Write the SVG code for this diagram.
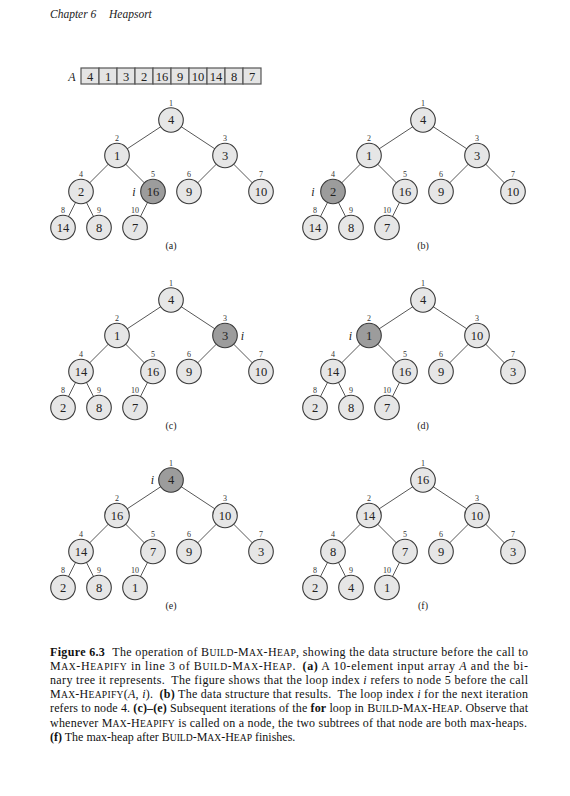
<svg xmlns="http://www.w3.org/2000/svg" width="570" height="796" viewBox="0 0 570 796">
<defs>
<style>
.bg{fill:#ffffff}
.hdr{font-family:"Liberation Serif",serif;font-style:italic;font-size:11.5px;fill:#222}
.cell{fill:#e4e4e4;stroke:#555;stroke-width:1.2}
.cv{font-family:"Liberation Serif",serif;font-size:12.5px;fill:#222;text-anchor:middle}
.it{font-family:"Liberation Serif",serif;font-style:italic;font-size:12px;fill:#222;text-anchor:middle}
.edge{stroke:#444;stroke-width:0.9;fill:none}
.nd{fill:#e6e6e6;stroke:#3a3a3a;stroke-width:1.1}
.dk{fill:#9c9c9c;stroke:#3a3a3a;stroke-width:1.1}
.nv{font-family:"Liberation Serif",serif;font-size:12.5px;fill:#222;text-anchor:middle}
.ix{font-family:"Liberation Serif",serif;font-size:8px;fill:#333;text-anchor:middle}
.sub{font-family:"Liberation Serif",serif;font-size:10px;fill:#222;text-anchor:middle}
.cap{font-family:"Liberation Serif",serif;font-size:12px;fill:#111}
.b{font-weight:bold}
.i{font-style:italic}
.s{font-size:9.6px}
</style>
<g id="edges-template">
<line class="edge" x1="171" y1="120" x2="117" y2="155.5"/>
<line class="edge" x1="171" y1="120" x2="225" y2="155.5"/>
<line class="edge" x1="117" y1="155.5" x2="81" y2="191.5"/>
<line class="edge" x1="117" y1="155.5" x2="153" y2="191.5"/>
<line class="edge" x1="225" y1="155.5" x2="189" y2="191.5"/>
<line class="edge" x1="225" y1="155.5" x2="261" y2="191.5"/>
<line class="edge" x1="81" y1="191.5" x2="63" y2="227.5"/>
<line class="edge" x1="81" y1="191.5" x2="99" y2="227.5"/>
<line class="edge" x1="153" y1="191.5" x2="135" y2="227.5"/>
</g>
</defs>
<rect class="bg" x="0" y="0" width="570" height="796"/>

<g id="header">
<text class="hdr" x="50" y="18">Chapter 6</text>
<text class="hdr" x="109" y="18">Heapsort</text>
</g>

<g id="array">
<text class="it" x="72" y="80.5">A</text>
<rect class="cell" x="81" y="68" width="18" height="16"/>
<rect class="cell" x="99" y="68" width="18" height="16"/>
<rect class="cell" x="117" y="68" width="18" height="16"/>
<rect class="cell" x="135" y="68" width="18" height="16"/>
<rect class="cell" x="153" y="68" width="18" height="16"/>
<rect class="cell" x="171" y="68" width="18" height="16"/>
<rect class="cell" x="189" y="68" width="18" height="16"/>
<rect class="cell" x="207" y="68" width="18" height="16"/>
<rect class="cell" x="225" y="68" width="18" height="16"/>
<rect class="cell" x="243" y="68" width="18" height="16"/>
<text class="cv" x="90" y="80.5">4</text>
<text class="cv" x="108" y="80.5">1</text>
<text class="cv" x="126" y="80.5">3</text>
<text class="cv" x="144" y="80.5">2</text>
<text class="cv" x="162" y="80.5">16</text>
<text class="cv" x="180" y="80.5">9</text>
<text class="cv" x="198" y="80.5">10</text>
<text class="cv" x="216" y="80.5">14</text>
<text class="cv" x="234" y="80.5">8</text>
<text class="cv" x="252" y="80.5">7</text>
</g>

<!-- Tree (a) -->
<g id="tree-a">
<g id="a-connectors"><use href="#edges-template"/></g>
<g id="a-n1"><circle class="nd" cx="171" cy="120" r="12.3"/><text class="nv" x="171" y="124.3">4</text><text class="ix" x="171" y="105.5">1</text></g>
<g id="a-n2"><circle class="nd" cx="117" cy="155.5" r="12.3"/><text class="nv" x="117" y="159.8">1</text><text class="ix" x="117" y="141">2</text></g>
<g id="a-n3"><circle class="nd" cx="225" cy="155.5" r="12.3"/><text class="nv" x="225" y="159.8">3</text><text class="ix" x="225" y="141">3</text></g>
<g id="a-n4"><circle class="nd" cx="81" cy="191.5" r="12.3"/><text class="nv" x="81" y="195.8">2</text><text class="ix" x="81" y="177">4</text></g>
<g id="a-n5"><circle class="dk" cx="153" cy="191.5" r="12.3"/><text class="nv" x="153" y="195.8">16</text><text class="ix" x="153" y="177">5</text><text class="it" x="134" y="195.8">i</text></g>
<g id="a-n6"><circle class="nd" cx="189" cy="191.5" r="12.3"/><text class="nv" x="189" y="195.8">9</text><text class="ix" x="189" y="177">6</text></g>
<g id="a-n7"><circle class="nd" cx="261" cy="191.5" r="12.3"/><text class="nv" x="261" y="195.8">10</text><text class="ix" x="261" y="177">7</text></g>
<g id="a-n8"><circle class="nd" cx="63" cy="227.5" r="12.3"/><text class="nv" x="63" y="231.8">14</text><text class="ix" x="63" y="213">8</text></g>
<g id="a-n9"><circle class="nd" cx="99" cy="227.5" r="12.3"/><text class="nv" x="99" y="231.8">8</text><text class="ix" x="99" y="213">9</text></g>
<g id="a-n10"><circle class="nd" cx="135" cy="227.5" r="12.3"/><text class="nv" x="135" y="231.8">7</text><text class="ix" x="135" y="213">10</text></g>
<text class="sub" x="171" y="248.5">(a)</text>
</g>

<!-- Tree (b) -->
<g id="tree-b" transform="translate(252,0)">
<g id="b-connectors"><use href="#edges-template"/></g>
<g id="b-n1"><circle class="nd" cx="171" cy="120" r="12.3"/><text class="nv" x="171" y="124.3">4</text><text class="ix" x="171" y="105.5">1</text></g>
<g id="b-n2"><circle class="nd" cx="117" cy="155.5" r="12.3"/><text class="nv" x="117" y="159.8">1</text><text class="ix" x="117" y="141">2</text></g>
<g id="b-n3"><circle class="nd" cx="225" cy="155.5" r="12.3"/><text class="nv" x="225" y="159.8">3</text><text class="ix" x="225" y="141">3</text></g>
<g id="b-n4"><circle class="dk" cx="81" cy="191.5" r="12.3"/><text class="nv" x="81" y="195.8">2</text><text class="ix" x="81" y="177">4</text><text class="it" x="61" y="195.8">i</text></g>
<g id="b-n5"><circle class="nd" cx="153" cy="191.5" r="12.3"/><text class="nv" x="153" y="195.8">16</text><text class="ix" x="153" y="177">5</text></g>
<g id="b-n6"><circle class="nd" cx="189" cy="191.5" r="12.3"/><text class="nv" x="189" y="195.8">9</text><text class="ix" x="189" y="177">6</text></g>
<g id="b-n7"><circle class="nd" cx="261" cy="191.5" r="12.3"/><text class="nv" x="261" y="195.8">10</text><text class="ix" x="261" y="177">7</text></g>
<g id="b-n8"><circle class="nd" cx="63" cy="227.5" r="12.3"/><text class="nv" x="63" y="231.8">14</text><text class="ix" x="63" y="213">8</text></g>
<g id="b-n9"><circle class="nd" cx="99" cy="227.5" r="12.3"/><text class="nv" x="99" y="231.8">8</text><text class="ix" x="99" y="213">9</text></g>
<g id="b-n10"><circle class="nd" cx="135" cy="227.5" r="12.3"/><text class="nv" x="135" y="231.8">7</text><text class="ix" x="135" y="213">10</text></g>
<text class="sub" x="171" y="248.5">(b)</text>
</g>

<!-- Tree (c) -->
<g id="tree-c" transform="translate(0,180)">
<g id="c-connectors"><use href="#edges-template"/></g>
<g id="c-n1"><circle class="nd" cx="171" cy="120" r="12.3"/><text class="nv" x="171" y="124.3">4</text><text class="ix" x="171" y="105.5">1</text></g>
<g id="c-n2"><circle class="nd" cx="117" cy="155.5" r="12.3"/><text class="nv" x="117" y="159.8">1</text><text class="ix" x="117" y="141">2</text></g>
<g id="c-n3"><circle class="dk" cx="225" cy="155.5" r="12.3"/><text class="nv" x="225" y="159.8">3</text><text class="ix" x="225" y="141">3</text><text class="it" x="242.5" y="159.8">i</text></g>
<g id="c-n4"><circle class="nd" cx="81" cy="191.5" r="12.3"/><text class="nv" x="81" y="195.8">14</text><text class="ix" x="81" y="177">4</text></g>
<g id="c-n5"><circle class="nd" cx="153" cy="191.5" r="12.3"/><text class="nv" x="153" y="195.8">16</text><text class="ix" x="153" y="177">5</text></g>
<g id="c-n6"><circle class="nd" cx="189" cy="191.5" r="12.3"/><text class="nv" x="189" y="195.8">9</text><text class="ix" x="189" y="177">6</text></g>
<g id="c-n7"><circle class="nd" cx="261" cy="191.5" r="12.3"/><text class="nv" x="261" y="195.8">10</text><text class="ix" x="261" y="177">7</text></g>
<g id="c-n8"><circle class="nd" cx="63" cy="227.5" r="12.3"/><text class="nv" x="63" y="231.8">2</text><text class="ix" x="63" y="213">8</text></g>
<g id="c-n9"><circle class="nd" cx="99" cy="227.5" r="12.3"/><text class="nv" x="99" y="231.8">8</text><text class="ix" x="99" y="213">9</text></g>
<g id="c-n10"><circle class="nd" cx="135" cy="227.5" r="12.3"/><text class="nv" x="135" y="231.8">7</text><text class="ix" x="135" y="213">10</text></g>
<text class="sub" x="171" y="248.5">(c)</text>
</g>

<!-- Tree (d) -->
<g id="tree-d" transform="translate(252,180)">
<g id="d-connectors"><use href="#edges-template"/></g>
<g id="d-n1"><circle class="nd" cx="171" cy="120" r="12.3"/><text class="nv" x="171" y="124.3">4</text><text class="ix" x="171" y="105.5">1</text></g>
<g id="d-n2"><circle class="dk" cx="117" cy="155.5" r="12.3"/><text class="nv" x="117" y="159.8">1</text><text class="ix" x="117" y="141">2</text><text class="it" x="98.5" y="159.8">i</text></g>
<g id="d-n3"><circle class="nd" cx="225" cy="155.5" r="12.3"/><text class="nv" x="225" y="159.8">10</text><text class="ix" x="225" y="141">3</text></g>
<g id="d-n4"><circle class="nd" cx="81" cy="191.5" r="12.3"/><text class="nv" x="81" y="195.8">14</text><text class="ix" x="81" y="177">4</text></g>
<g id="d-n5"><circle class="nd" cx="153" cy="191.5" r="12.3"/><text class="nv" x="153" y="195.8">16</text><text class="ix" x="153" y="177">5</text></g>
<g id="d-n6"><circle class="nd" cx="189" cy="191.5" r="12.3"/><text class="nv" x="189" y="195.8">9</text><text class="ix" x="189" y="177">6</text></g>
<g id="d-n7"><circle class="nd" cx="261" cy="191.5" r="12.3"/><text class="nv" x="261" y="195.8">3</text><text class="ix" x="261" y="177">7</text></g>
<g id="d-n8"><circle class="nd" cx="63" cy="227.5" r="12.3"/><text class="nv" x="63" y="231.8">2</text><text class="ix" x="63" y="213">8</text></g>
<g id="d-n9"><circle class="nd" cx="99" cy="227.5" r="12.3"/><text class="nv" x="99" y="231.8">8</text><text class="ix" x="99" y="213">9</text></g>
<g id="d-n10"><circle class="nd" cx="135" cy="227.5" r="12.3"/><text class="nv" x="135" y="231.8">7</text><text class="ix" x="135" y="213">10</text></g>
<text class="sub" x="171" y="248.5">(d)</text>
</g>

<!-- Tree (e) -->
<g id="tree-e" transform="translate(0,360)">
<g id="e-connectors"><use href="#edges-template"/></g>
<g id="e-n1"><circle class="dk" cx="171" cy="120" r="12.3"/><text class="nv" x="171" y="124.3">4</text><text class="ix" x="171" y="105.5">1</text><text class="it" x="152.5" y="124.3">i</text></g>
<g id="e-n2"><circle class="nd" cx="117" cy="155.5" r="12.3"/><text class="nv" x="117" y="159.8">16</text><text class="ix" x="117" y="141">2</text></g>
<g id="e-n3"><circle class="nd" cx="225" cy="155.5" r="12.3"/><text class="nv" x="225" y="159.8">10</text><text class="ix" x="225" y="141">3</text></g>
<g id="e-n4"><circle class="nd" cx="81" cy="191.5" r="12.3"/><text class="nv" x="81" y="195.8">14</text><text class="ix" x="81" y="177">4</text></g>
<g id="e-n5"><circle class="nd" cx="153" cy="191.5" r="12.3"/><text class="nv" x="153" y="195.8">7</text><text class="ix" x="153" y="177">5</text></g>
<g id="e-n6"><circle class="nd" cx="189" cy="191.5" r="12.3"/><text class="nv" x="189" y="195.8">9</text><text class="ix" x="189" y="177">6</text></g>
<g id="e-n7"><circle class="nd" cx="261" cy="191.5" r="12.3"/><text class="nv" x="261" y="195.8">3</text><text class="ix" x="261" y="177">7</text></g>
<g id="e-n8"><circle class="nd" cx="63" cy="227.5" r="12.3"/><text class="nv" x="63" y="231.8">2</text><text class="ix" x="63" y="213">8</text></g>
<g id="e-n9"><circle class="nd" cx="99" cy="227.5" r="12.3"/><text class="nv" x="99" y="231.8">8</text><text class="ix" x="99" y="213">9</text></g>
<g id="e-n10"><circle class="nd" cx="135" cy="227.5" r="12.3"/><text class="nv" x="135" y="231.8">1</text><text class="ix" x="135" y="213">10</text></g>
<text class="sub" x="171" y="248.5">(e)</text>
</g>

<!-- Tree (f) -->
<g id="tree-f" transform="translate(252,360)">
<g id="f-connectors"><use href="#edges-template"/></g>
<g id="f-n1"><circle class="nd" cx="171" cy="120" r="12.3"/><text class="nv" x="171" y="124.3">16</text><text class="ix" x="171" y="105.5">1</text></g>
<g id="f-n2"><circle class="nd" cx="117" cy="155.5" r="12.3"/><text class="nv" x="117" y="159.8">14</text><text class="ix" x="117" y="141">2</text></g>
<g id="f-n3"><circle class="nd" cx="225" cy="155.5" r="12.3"/><text class="nv" x="225" y="159.8">10</text><text class="ix" x="225" y="141">3</text></g>
<g id="f-n4"><circle class="nd" cx="81" cy="191.5" r="12.3"/><text class="nv" x="81" y="195.8">8</text><text class="ix" x="81" y="177">4</text></g>
<g id="f-n5"><circle class="nd" cx="153" cy="191.5" r="12.3"/><text class="nv" x="153" y="195.8">7</text><text class="ix" x="153" y="177">5</text></g>
<g id="f-n6"><circle class="nd" cx="189" cy="191.5" r="12.3"/><text class="nv" x="189" y="195.8">9</text><text class="ix" x="189" y="177">6</text></g>
<g id="f-n7"><circle class="nd" cx="261" cy="191.5" r="12.3"/><text class="nv" x="261" y="195.8">3</text><text class="ix" x="261" y="177">7</text></g>
<g id="f-n8"><circle class="nd" cx="63" cy="227.5" r="12.3"/><text class="nv" x="63" y="231.8">2</text><text class="ix" x="63" y="213">8</text></g>
<g id="f-n9"><circle class="nd" cx="99" cy="227.5" r="12.3"/><text class="nv" x="99" y="231.8">4</text><text class="ix" x="99" y="213">9</text></g>
<g id="f-n10"><circle class="nd" cx="135" cy="227.5" r="12.3"/><text class="nv" x="135" y="231.8">1</text><text class="ix" x="135" y="213">10</text></g>
<text class="sub" x="171" y="248.5">(f)</text>
</g>

<g id="caption">
<text class="cap" x="50" y="655.5" textLength="478" lengthAdjust="spacing"><tspan class="b">Figure 6.3</tspan><tspan dx="4"> The operation of B</tspan><tspan class="s">UILD</tspan>-M<tspan class="s">AX</tspan>-H<tspan class="s">EAP</tspan>, showing the data structure before the call to</text>
<text class="cap" x="50" y="669.7" textLength="478" lengthAdjust="spacing">M<tspan class="s">AX</tspan>-H<tspan class="s">EAPIFY</tspan> in line 3 of B<tspan class="s">UILD</tspan>-M<tspan class="s">AX</tspan>-H<tspan class="s">EAP</tspan>. <tspan class="b" dx="3">(a)</tspan> A 10-element input array <tspan class="i">A</tspan> and the bi-</text>
<text class="cap" x="50" y="683.9" textLength="478" lengthAdjust="spacing">nary tree it represents. <tspan dx="3">The figure shows that the loop index </tspan><tspan class="i">i</tspan> refers to node 5 before the call</text>
<text class="cap" x="50" y="698.1" textLength="478" lengthAdjust="spacing">M<tspan class="s">AX</tspan>-H<tspan class="s">EAPIFY</tspan>(<tspan class="i">A</tspan>, <tspan class="i">i</tspan>). <tspan class="b" dx="3">(b)</tspan> The data structure that results. <tspan dx="3">The loop index </tspan><tspan class="i">i</tspan> for the next iteration</text>
<text class="cap" x="50" y="712.3" textLength="478" lengthAdjust="spacing">refers to node 4. <tspan class="b">(c)–(e)</tspan> Subsequent iterations of the <tspan class="b">for</tspan> loop in B<tspan class="s">UILD</tspan>-M<tspan class="s">AX</tspan>-H<tspan class="s">EAP</tspan>. Observe that</text>
<text class="cap" x="50" y="726.5" textLength="477" lengthAdjust="spacing">whenever M<tspan class="s">AX</tspan>-H<tspan class="s">EAPIFY</tspan> is called on a node, the two subtrees of that node are both max-heaps.</text>
<text class="cap" x="50" y="740.7"><tspan class="b">(f)</tspan> The max-heap after B<tspan class="s">UILD</tspan>-M<tspan class="s">AX</tspan>-H<tspan class="s">EAP</tspan> finishes.</text>
</g>
</svg>
